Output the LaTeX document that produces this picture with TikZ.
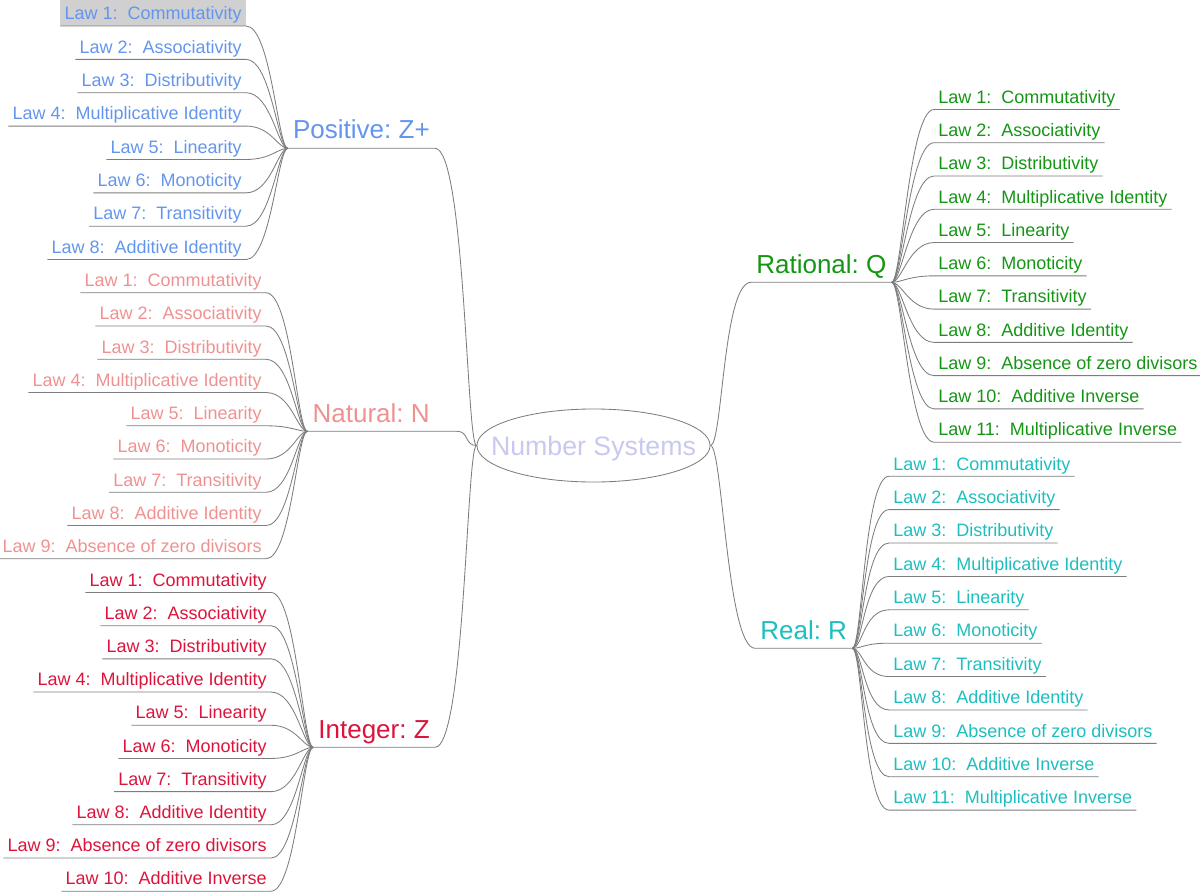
\documentclass[tikz,border=0pt]{standalone}
\usepackage{fontspec}
\setmainfont{Liberation Sans}
\definecolor{rootcol}{RGB}{200,200,240}
\definecolor{poscol}{RGB}{100,149,237}
\definecolor{natcol}{RGB}{240,145,145}
\definecolor{intcol}{RGB}{220,20,60}
\definecolor{ratcol}{RGB}{20,150,20}
\definecolor{realcol}{RGB}{30,190,190}
\definecolor{linkcol}{RGB}{125,125,125}
\definecolor{hilite}{RGB}{208,208,208}
\usetikzlibrary{calc}
\usetikzlibrary{shapes.geometric, backgrounds}

\newcommand{\laws}{Commutativity, Associativity, Distributivity, Multiplicative Identity, Linearity, Monoticity, Transitivity, Additive Identity, Absence of zero divisors, Additive Inverse, Multiplicative Inverse}

\tikzset{
  root/.style={ellipse, draw=linkcol, line width=0.6pt, text=rootcol, font=\fontsize{19}{22}\selectfont,
    inner xsep=-0.5cm, inner ysep=0pt, minimum width=5.775cm, minimum height=1.825cm, text depth=0pt},
  branch/.style={font=\fontsize{18.5}{22}\selectfont, inner xsep=0.125cm, inner ysep=0.225cm, text depth=0pt},
  law/.style={font=\fontsize{12.8}{15}\selectfont, inner xsep=0.1cm, inner ysep=0.15cm, text depth=0pt},
  link/.style={draw=linkcol, line width=0.6pt},
}

\begin{document}
\frenchspacing
\begin{tikzpicture}[x=0.025cm, y=-0.025cm]
  \useasboundingbox (0,0) rectangle (1200,892);

  \node [root] (root) at (593.5,445.5) {Number Systems};

  % Positive: Z+
  \node [branch, text=poscol, anchor=base east] (pos) at (435,139) {Positive: Z+};
  \draw [link] (root.west) .. controls +(-10,0) and +(30,0) .. (pos.south east) -- (pos.south west);
  \foreach \name [count=\i] in \laws {
    \ifnum\i<9
      \node [law, text=poscol, anchor=base east] (pos\i) at (246, 19.7+33.37*\i-33.37) {Law \i:~ \name};
      \draw [link] (pos\i.south west) -- (pos\i.south east) .. controls +(25,0) and +(-10,0) .. (pos.south west);
    \fi
  }
  \begin{scope}[on background layer]
    \fill [hilite] (pos1.north west) rectangle (pos1.south east);
  \end{scope}

  % Natural: N
  \node [branch, text=natcol, anchor=base east] (nat) at (435,422) {Natural: N};
  \draw [link] (root.west) .. controls +(-12,0) and +(12,0) .. ($(nat.south east)+(22,0)$) -- (nat.south west);
  \foreach \name [count=\i] in \laws {
    \ifnum\i<10
      \node [law, text=natcol, anchor=base east] (nat\i) at (266, 286.5+33.25*\i-33.25) {Law \i:~ \name};
      \draw [link] (nat\i.south west) -- (nat\i.south east) .. controls +(25,0) and +(-10,0) .. (nat.south west);
    \fi
  }

  % Integer: Z
  \node [branch, text=intcol, anchor=base east] (int) at (435,738) {Integer: Z};
  \draw [link] (root.west) .. controls +(-10,0) and +(30,0) .. (int.south east) -- (int.south west);
  \foreach \name [count=\i] in \laws {
    \ifnum\i<11
      \node [law, text=intcol, anchor=base east] (int\i) at (271, 586.2+33.19*\i-33.19) {Law \i:~ \name};
      \draw [link] (int\i.south west) -- (int\i.south east) .. controls +(25,0) and +(-10,0) .. (int.south west);
    \fi
  }

  % Rational: Q
  \node [branch, text=ratcol, anchor=base west] (rat) at (751,273) {Rational: Q};
  \draw [link] (root.east) .. controls +(12,0) and +(-28,0) .. (rat.south west) -- (rat.south east);
  \foreach \name [count=\i] in \laws {
    \node [law, text=ratcol, anchor=base west] (rat\i) at (934, 103.2+33.27*\i-33.27) {Law \i:~ \name};
    \draw [link] (rat.south east) .. controls +(10,0) and +(-25,0) .. (rat\i.south west) -- (rat\i.south east);
  }

  % Real: R
  \node [branch, text=realcol, anchor=base west] (real) at (755,639) {Real: R};
  \draw [link] (root.east) .. controls +(12,0) and +(-28,0) .. (real.south west) -- (real.south east);
  \foreach \name [count=\i] in \laws {
    \node [law, text=realcol, anchor=base west] (real\i) at (889, 470+33.38*\i-33.38) {Law \i:~ \name};
    \draw [link] (real.south east) .. controls +(10,0) and +(-25,0) .. (real\i.south west) -- (real\i.south east);
  }
\end{tikzpicture}
\end{document}
